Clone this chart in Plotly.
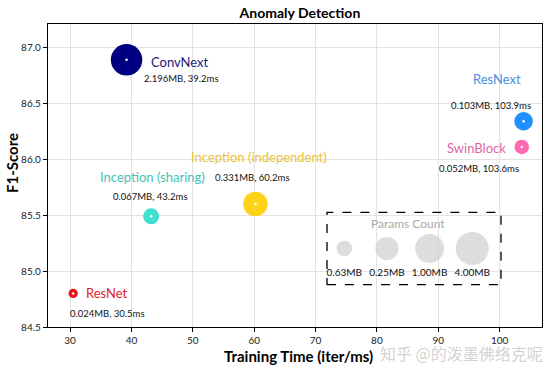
import math
import plotly.graph_objects as go

# ---------------- data ----------------
models = ["ConvNext", "ResNext", "SwinBlock", "Inception (sharing)", "Inception (independent)", "ResNet"]
train_time = [39.2, 103.9, 103.6, 43.2, 60.2, 30.5]
f1_score = [86.89, 86.34, 86.11, 85.49, 85.60, 84.80]
params_mb = [2.196, 0.103, 0.052, 0.067, 0.331, 0.024]
info_text = ["2.196MB, 39.2ms", "0.103MB, 103.9ms", "0.052MB, 103.6ms",
             "0.067MB, 43.2ms", "0.331MB, 60.2ms", "0.024MB, 30.5ms"]

legend_values = [0.0625, 0.25, 1.0, 4.0]
legend_labels = ["0.63MB", "0.25MB", "1.00MB", "4.00MB"]

x_ticks = [30, 40, 50, 60, 70, 80, 90, 100]
y_ticks = [84.5, 85.0, 85.5, 86.0, 86.5, 87.0]

# ---------------- styles ----------------
marker_colors = ["#000080", "#1E90FF", "#FF69B4", "#40E0D0", "#FFD21A", "#E8141C"]
label_colors = ["#1c1c72", "#4a8fe0", "#e064a8", "#45c2b6", "#e9c23a", "#e0202a"]
# (xanchor, name xshift, name yshift, info xanchor, info xshift, info yshift)
label_pos = [
    ("left", 22, -2, "left", 15, -19),
    ("center", -27, 42, "center", -33, 16),
    ("right", -14, -1, "center", -43, -22),
    ("center", 1, 39, "center", -1, 20),
    ("center", 4, 47, "center", -3, 27),
    ("left", 11, 0, "left", -5, -20),
]

FONT = "Lato, 'Noto Sans', sans-serif"


def size_px(mb):
    L = math.log10(mb)
    return 29 + 8.1 * L - 2.5 * L * L


fig = go.Figure()

fig.add_trace(go.Scatter(
    x=train_time, y=f1_score, mode="markers",
    marker=dict(size=[size_px(v) for v in params_mb], color=marker_colors,
                line=dict(width=0), opacity=1),
    hoverinfo="skip", showlegend=False))
fig.add_trace(go.Scatter(
    x=train_time, y=f1_score, mode="markers",
    marker=dict(size=2.5, color="white"), hoverinfo="skip", showlegend=False))

for i, name in enumerate(models):
    xa, xs, ys, ixa, ixs, iys = label_pos[i]
    fig.add_annotation(x=train_time[i], y=f1_score[i], xref="x", yref="y",
                       text=name, showarrow=False, xanchor=xa, yanchor="middle",
                       xshift=xs, yshift=ys,
                       font=dict(family=FONT, size=13, color=label_colors[i]))
    fig.add_annotation(x=train_time[i], y=f1_score[i], xref="x", yref="y",
                       text=info_text[i], showarrow=False, xanchor=ixa, yanchor="middle",
                       xshift=ixs, yshift=iys,
                       font=dict(family=FONT, size=9.5, color="#111111"))

# ---------------- size legend ----------------
idx = list(range(len(legend_values)))
fig.add_trace(go.Scatter(
    x=idx, y=[0.5] * len(idx), xaxis="x2", yaxis="y2", mode="markers",
    marker=dict(size=[size_px(v) for v in legend_values], color="#cfcfcf", line=dict(width=0)),
    hoverinfo="skip", showlegend=False))
fig.add_trace(go.Scatter(
    x=idx, y=[0.16] * len(idx), xaxis="x2", yaxis="y2", mode="text",
    text=legend_labels, textposition="middle center",
    textfont=dict(family=FONT, size=10, color="#111111"),
    hoverinfo="skip", showlegend=False))
fig.add_annotation(x=1.5, y=0.84, xref="x2", yref="y2", text="Params Count",
                   showarrow=False, font=dict(family=FONT, size=12, color="#a8a8a8"))

fig.add_shape(type="rect", xref="paper", yref="paper",
              x0=0.5648, x1=0.917, y0=0.1396, y1=0.3786,
              line=dict(color="black", width=1.3, dash="dash"), fillcolor="rgba(0,0,0,0)")

# ---------------- titles ----------------
fig.add_annotation(x=0.508, y=-0.097, xref="paper", yref="paper", text="<b>Training Time (iter/ms)</b>",
                   showarrow=False, xanchor="center", yanchor="middle",
                   font=dict(family=FONT, size=15, color="black"))
fig.add_annotation(x=-0.073, y=0.541, xref="paper", yref="paper", text="<b>F1-Score</b>",
                   showarrow=False, textangle=-90, xanchor="center", yanchor="middle",
                   font=dict(family=FONT, size=15, color="black"))
fig.add_annotation(x=0.838, y=-0.087, xref="paper", yref="paper", text="知乎 @的泼墨佛络克呢",
                   showarrow=False, xanchor="center", yanchor="middle",
                   font=dict(family="'Noto Sans CJK SC'", size=16, color="rgba(190,190,190,0.7)"))

axis_common = dict(showline=True, mirror=True, linecolor="black", linewidth=1.3,
                   showgrid=True, gridcolor="#e3e3e3", gridwidth=1,
                   ticks="outside", ticklen=4, tickcolor="black", tickwidth=1,
                   tickfont=dict(family=FONT, size=10, color="#222222"), zeroline=False)

fig.update_layout(
    width=554, height=371,
    margin=dict(l=48, r=12, t=24, b=44),
    paper_bgcolor="white", plot_bgcolor="rgba(0,0,0,0)",
    title=dict(text="<b>Anomaly Detection</b>", x=0.51, xref="paper", y=1 - 13 / 371,
               xanchor="center", yanchor="middle",
               font=dict(family=FONT, size=14, color="black")),
    xaxis=dict(range=[26.4, 106.9], tickvals=x_ticks, **axis_common),
    yaxis=dict(range=[84.5, 87.21], tickvals=y_ticks, tickformat=".1f", **axis_common),
    xaxis2=dict(domain=[0.5567, 0.902], range=[-0.5, 3.5], anchor="y2", visible=False, fixedrange=True),
    yaxis2=dict(domain=[0.1396, 0.3786], range=[0, 1], anchor="x2", visible=False, fixedrange=True),
    showlegend=False,
)

fig.write_html("out.html", config={"displayModeBar": False},
               post_script="document.body.style.margin='0';")
